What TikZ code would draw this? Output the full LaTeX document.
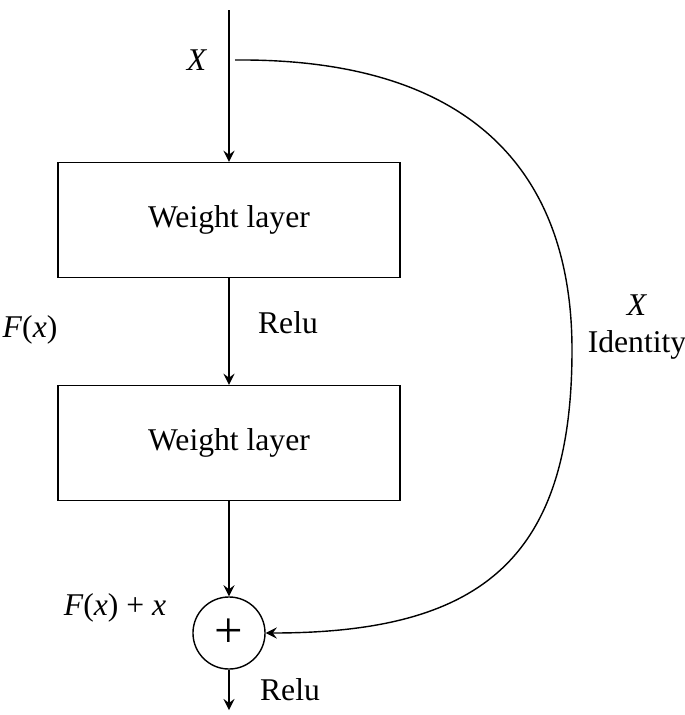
\documentclass[tikz,border=0pt]{standalone}
\usepackage{fontspec}
\setmainfont{Liberation Serif}
\usepackage{tikz}
\usetikzlibrary{positioning,calc}

\begin{document}
\begin{tikzpicture}[x=0.01cm,y=-0.01cm,font=\fontsize{9}{11}\selectfont,
  layer/.style={draw,minimum width=3.42cm,minimum height=1.15cm,inner sep=0pt},
  flow/.style={->,>=stealth}]
\useasboundingbox (0,0) rectangle (685,715);

\coordinate (top) at (229,10);
\node[layer] (w1) at (229,220) {Weight layer};
\node[layer] (w2) at (229,443) {Weight layer};
\node[draw,circle,minimum size=0.72cm,inner sep=0pt] (sum) at (229,633) {\Large +};
\coordinate (out) at (229,710);
\coordinate (id) at (235,60);

\draw[flow] (top) -- (w1.north);
\draw[flow] (w1.south) -- (w2.north);
\draw[flow] (w2.south) -- (sum.north);
\draw[flow] (sum.south) -- (out);
\draw[flow] (id) .. controls (480,58) and (572,180) .. (572,350)
  .. controls (572,560) and (480,633) .. (sum.east);

\node (x) at (197,60) {\textit{X}};
\node (relu1) at (288,323) {Relu};
\node (fx) at (30,330) {\textit{F}(\textit{x})};
\node (fxx) at (115,608) {\textit{F}(\textit{x}) + \textit{x}};
\node (relu2) at (290,690) {Relu};
\node (xid) at (637,305) {\textit{X}};
\node (ident) at (637,345) {Identity};
\end{tikzpicture}
\end{document}
